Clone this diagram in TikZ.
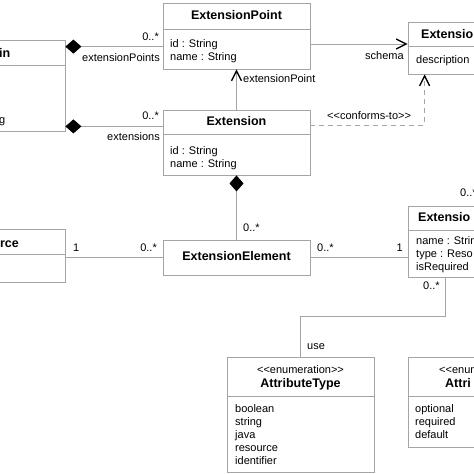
\documentclass[tikz,border=0pt]{standalone}
\usepackage{fontspec}
\setmainfont{Liberation Sans}[Ligatures=TeXOff]
\usetikzlibrary{arrows.meta}
\definecolor{linegray}{RGB}{165,165,165}

\begin{document}
\begin{tikzpicture}[x=1pt,y=-1pt]
        \tikzset{boxline/.style={draw=linegray, line width=0.8pt},
                 classbox/.style={boxline, rectangle, inner sep=0pt},
                 title/.style={font=\fontsize{12.5}{14}\selectfont\bfseries, inner sep=0pt, anchor=mid},
                 attrs/.style={font=\fontsize{11}{13}\selectfont, align=left, inner sep=0pt, anchor=north west},
                 lbl/.style={font=\fontsize{11}{13}\selectfont, inner sep=0pt},
                 assoc/.style={draw=linegray, line width=0.8pt},
                 comp/.style={assoc, {Diamond[length=16pt, width=14pt, color=black, fill=black]}-},
                 nav/.style={assoc, -{Straight Barb[length=10pt, width=10pt, line width=1.3pt, color=black]}},
                 dep/.style={nav, dash pattern=on 5pt off 4pt}}
        \useasboundingbox (0,0) rectangle (474,474);
        \clip (0,0) rectangle (474,474);
        % class boxes
        \node [classbox, minimum width=155pt, minimum height=91pt]  (plugin)    at (-12.5,85.5){};
        \node [classbox, minimum width=147pt, minimum height=66pt]  (extpoint)  at (236.5,36){};
        \node [classbox, minimum width=147pt, minimum height=65pt]  (extension) at (236.5,142.5){};
        \node [classbox, minimum width=152pt, minimum height=52pt]  (schema)    at (484,48){};
        \node [classbox, minimum width=155pt, minimum height=53pt]  (resource)  at (-12.5,255.5){};
        \node [classbox, minimum width=147pt, minimum height=35pt]  (element)   at (236.5,257.5){};
        \node [classbox, minimum width=152pt, minimum height=71pt]  (attribute) at (484,241.5){};
        \node [classbox, minimum width=147pt, minimum height=115pt] (attrtype)  at (300.5,414.5){};
        \node [classbox, minimum width=152pt, minimum height=90pt]  (attruse)   at (484,402){};
        % compartment lines
        \draw [boxline] ([yshift=-26pt]plugin.north west)    -- ([yshift=-26pt]plugin.north east);
        \draw [boxline] ([yshift=-27pt]extpoint.north west)  -- ([yshift=-27pt]extpoint.north east);
        \draw [boxline] ([yshift=-25pt]extension.north west) -- ([yshift=-25pt]extension.north east);
        \draw [boxline] ([yshift=-25pt]schema.north west)    -- ([yshift=-25pt]schema.north east);
        \draw [boxline] ([yshift=-26pt]resource.north west)  -- ([yshift=-26pt]resource.north east);
        \draw [boxline] ([yshift=-25pt]attribute.north west) -- ([yshift=-25pt]attribute.north east);
        \draw [boxline] ([yshift=-40pt]attrtype.north west)  -- ([yshift=-40pt]attrtype.north east);
        \draw [boxline] ([yshift=-40pt]attruse.north west)   -- ([yshift=-40pt]attruse.north east);
        % texts in the boxes
        \node [title, anchor=mid east] (plugin-t) at (10.5,55){in};
        \node [lbl, anchor=mid east]   (plugin-a) at (5.5,121){g};
        \node [title] (extpoint-t) at (236.5,17){ExtensionPoint};
        \node [attrs] (extpoint-a) at (170,39){id : String\\name : String};
        \node [title] (extension-t) at (236.5,123){Extension};
        \node [attrs] (extension-a) at (170,146){id : String\\name : String};
        \node [title, anchor=mid west] (schema-t) at (421,36){Extensio};
        \node [lbl, anchor=mid west]   (schema-a) at (416,61){description};
        \node [title, anchor=mid east] (resource-t) at (19,245){rce};
        \node [title] (element-t) at (236.5,258){ExtensionElement};
        \node [title, anchor=mid west] (attribute-t) at (418,219){Extensio};
        \node [attrs] (attribute-a) at (416,236){name : Strin\\type : Reso\\isRequired};
        \node [lbl, anchor=mid] (attrtype-s) at (300.5,371){<<enumeration>>};
        \node [title]           (attrtype-t) at (300.5,385){AttributeType};
        \node [attrs] (attrtype-a) at (235,404){boolean\\string\\java\\resource\\identifier};
        \node [lbl, anchor=mid west]   (attruse-s) at (439,371){<<enum};
        \node [title, anchor=mid west] (attruse-t) at (445,385){Attri};
        \node [attrs] (attruse-a) at (415,404){optional\\required\\default};
        % connectors
        \coordinate (pl-ep) at ([yshift=-7pt]plugin.north east);
        \coordinate (pl-ex) at ([yshift=5pt]plugin.south east);
        \coordinate (ep-sc) at ([yshift=-8pt]extpoint.east);
        \coordinate (ex-sc) at ([yshift=17.5pt]extension.east);
        \coordinate (sc-in) at ([xshift=17pt]schema.south west);
        \coordinate (at-use) at ([xshift=38pt]attribute.south west);
        \coordinate (use-bend) at ([yshift=40pt]attrtype.north);
        \draw [comp] (pl-ep) -- (pl-ep -| extpoint.west);
        \draw [comp] (pl-ex) -- (pl-ex -| extension.west);
        \draw [nav]  (extension.north) -- (extpoint.south);
        \draw [nav]  (ep-sc) -- (ep-sc -| schema.west);
        \draw [dep]  (ex-sc) -| (sc-in);
        \draw [comp] (extension.south) -- (element.north);
        \draw [assoc] (element.west) -- (element.west -| resource.east);
        \draw [assoc] (element.east) -- (element.east -| attribute.west);
        \draw [assoc] (at-use) |- (use-bend) -- (attrtype.north);
        % connector labels
        \node [lbl, anchor=mid east] (m1) at (159,38){0..*};
        \node [lbl, anchor=mid east] (r1) at (160,59){extensionPoints};
        \node [lbl, anchor=mid east] (m2) at (159,117){0..*};
        \node [lbl, anchor=mid east] (r2) at (160,138){extensions};
        \node [lbl, anchor=mid west] (r3) at (243,80){extensionPoint};
        \node [lbl, anchor=mid west] (r4) at (365,57){schema};
        \node [lbl, anchor=mid west] (r5) at (327,117){<<conforms-to>>};
        \node [lbl, anchor=mid west] (m3) at (243,229){0..*};
        \node [lbl, anchor=mid west] (m4) at (73,249){1};
        \node [lbl, anchor=mid east] (m5) at (157,249){0..*};
        \node [lbl, anchor=mid west] (m6) at (317,249){0..*};
        \node [lbl, anchor=mid east] (m7) at (403,249){1};
        \node [lbl, anchor=mid west] (m8) at (460,194){0..*};
        \node [lbl, anchor=mid west] (m9) at (423,287){0..*};
        \node [lbl, anchor=mid west] (r6) at (307,347){use};
    \end{tikzpicture}
\end{document}
